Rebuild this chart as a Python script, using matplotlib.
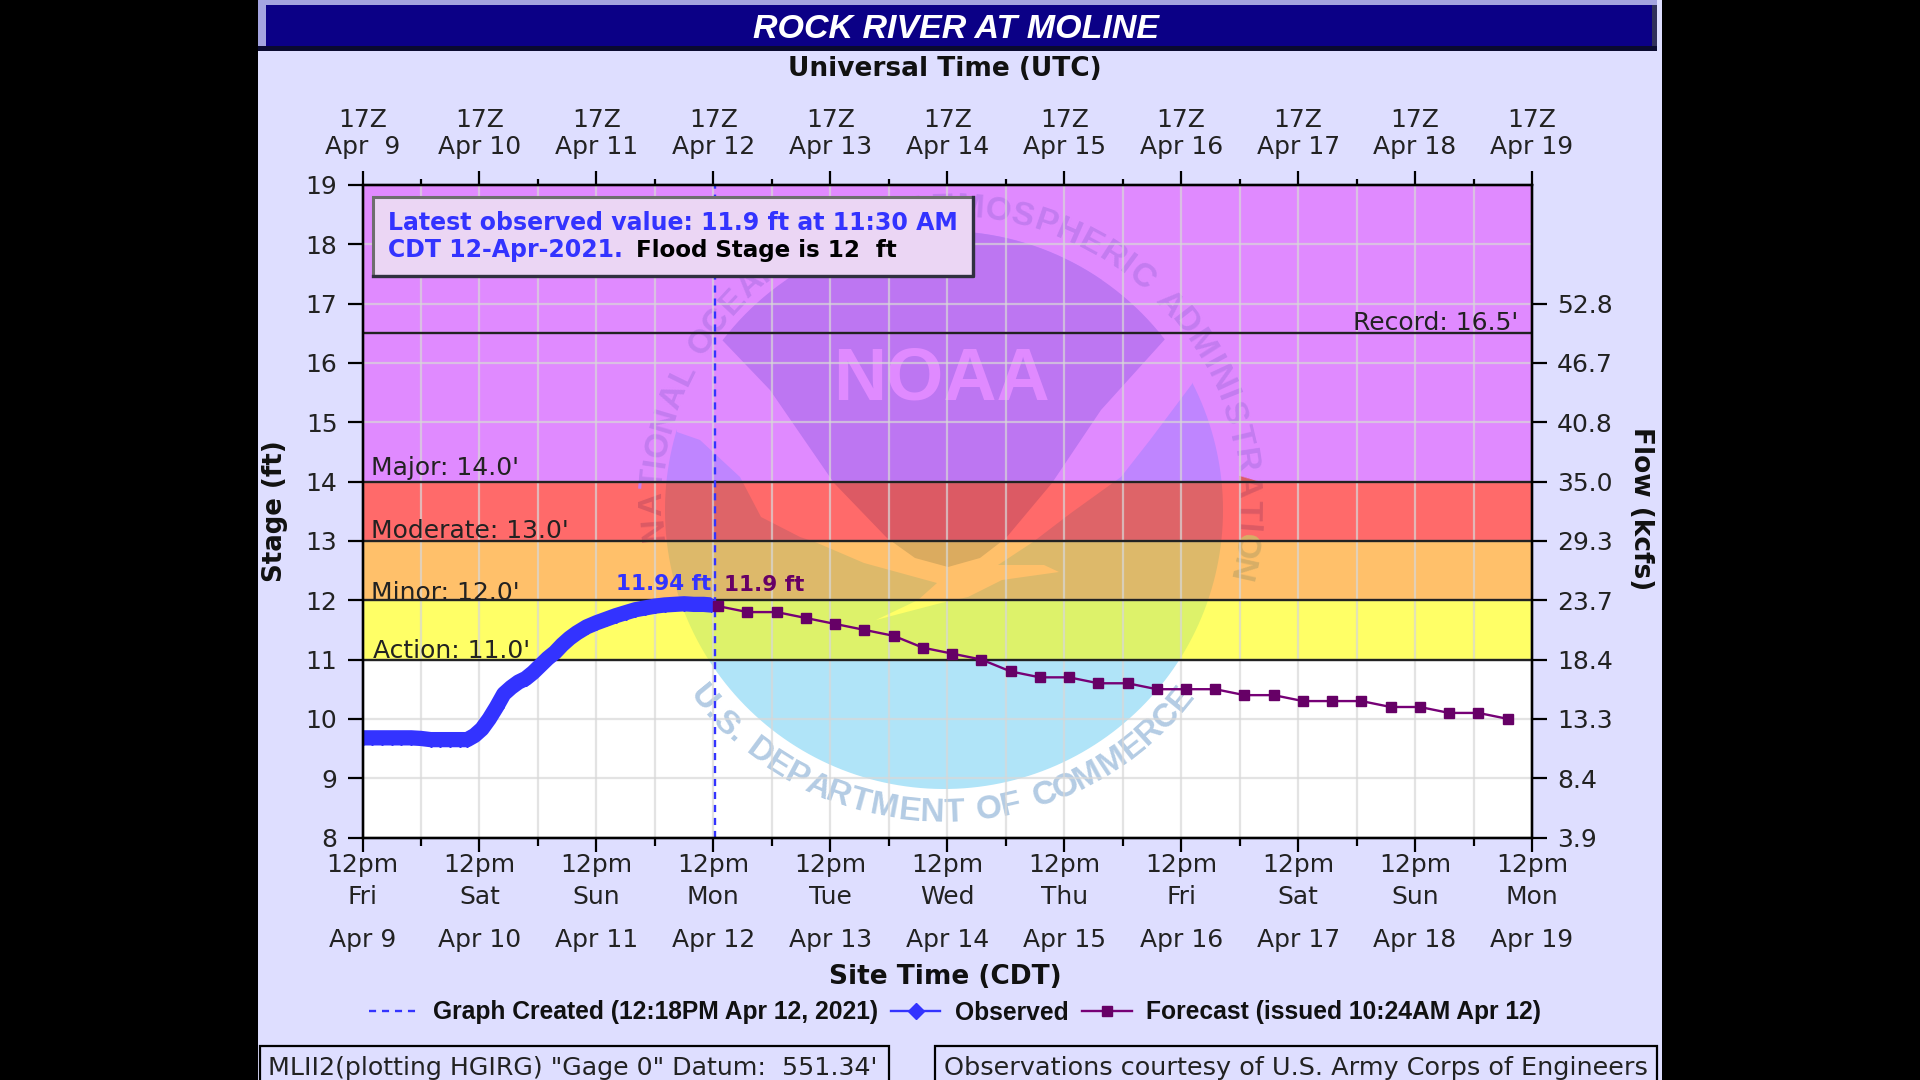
import numpy as np
import matplotlib
matplotlib.use("Agg")
import matplotlib.pyplot as plt
from matplotlib.patches import Rectangle, Polygon
from matplotlib.transforms import Affine2D
from matplotlib.lines import Line2D

# ---------- data ----------
obs_hours = [0, 2, 4, 6, 8, 10, 12, 14, 16, 18, 20, 21.5, 23, 24.5, 26, 27.5, 29, 30.5, 32, 33.5,
             35, 36.5, 38, 39.5, 41, 42.5, 44, 46, 48, 50, 52, 54, 56, 58, 60, 62, 64, 66, 68, 70, 71.5]
obs_stage = [9.68, 9.68, 9.68, 9.68, 9.68, 9.68, 9.67, 9.65, 9.65, 9.65, 9.65, 9.65, 9.72, 9.83, 10.0, 10.2,
             10.42, 10.53, 10.62, 10.68, 10.78, 10.9, 11.02, 11.12, 11.25, 11.36, 11.45, 11.55, 11.62, 11.68,
             11.74, 11.79, 11.84, 11.87, 11.9, 11.92, 11.93, 11.94, 11.93, 11.93, 11.92]
fc_hours = [73, 79, 85, 91, 97, 103, 109, 115, 121, 127, 133, 139, 145, 151, 157, 163, 169, 175, 181, 187,
            193, 199, 205, 211, 217, 223, 229, 235]
fc_stage = [11.9, 11.8, 11.8, 11.7, 11.6, 11.5, 11.4, 11.2, 11.1, 11.0, 10.8, 10.7, 10.7, 10.6, 10.6, 10.5,
            10.5, 10.5, 10.4, 10.4, 10.3, 10.3, 10.3, 10.2, 10.2, 10.1, 10.1, 10.0]
created_hour = 72.3
day_hours = list(range(0, 241, 24))
half_hours = list(range(12, 240, 24))
date_labels = ["Apr 9", "Apr 10", "Apr 11", "Apr 12", "Apr 13", "Apr 14", "Apr 15", "Apr 16", "Apr 17", "Apr 18", "Apr 19"]
top_date_labels = ["Apr  9"] + date_labels[1:]
weekday_labels = ["Fri", "Sat", "Sun", "Mon", "Tue", "Wed", "Thu", "Fri", "Sat", "Sun", "Mon"]
stage_ticks = list(range(8, 20))
flow_ticks = [8, 9, 10, 11, 12, 13, 14, 15, 16, 17]
flow_labels = ["3.9", "8.4", "13.3", "18.4", "23.7", "29.3", "35.0", "40.8", "46.7", "52.8"]
band_edges = [8, 11, 12, 13, 14, 19]
band_colors = ["#FFFFFF", "#FFFF66", "#FFC06A", "#FF6A6A", "#E08AFF"]
crescent_colors = ["#B0E4F8", "#DDF26A", "#DDB96A", "#DE6468", "#BF85FF"]
bird_colors = ["#B0E4F8", "#DDF26A", "#DBAB5F", "#DC5A64", "#BD76F2"]
ring_colors = ["#B4CCE4", "#CBD86A", "#D8AE66", "#DC5A64", "#C47CF0"]
flood_levels = [11, 12, 13, 14, 16.5]

BLUE = "#3333FF"
PURPLE = "#660066"
PANEL = "#DEDEFF"

plt.rcParams["font.family"] = ["DejaVu Sans"]
W, H = 1920, 1080
fig = plt.figure(figsize=(W / 100, H / 100), dpi=100, facecolor="black")
px = Affine2D().scale(1, -1).translate(0, H)
L, R, T, B = 362.5, 1532, 185, 837.5
ax = fig.add_axes([L / W, 1 - B / H, (R - L) / W, (B - T) / H])


def frect(x0, y0, x1, y1, **kw):
    fig.add_artist(Rectangle((x0, y0), x1 - x0, y1 - y0, transform=px, linewidth=kw.pop("lw", 0), **kw))


frect(258, 0, 1662, 1080, facecolor=PANEL, zorder=-5)
frect(258, 0, 1657, 6, facecolor="#A4A4E0", zorder=-4)
frect(258, 0, 266, 46, facecolor="#A4A4E0", zorder=-4)
frect(266, 5, 1652, 46, facecolor="#0B0086", zorder=-4)
frect(1652, 5, 1657, 46, facecolor="#30305A", zorder=-4)
frect(258, 46, 1657, 51, facecolor="#0A0A30", zorder=-4)
frect(260, 1046, 889, 1090, facecolor=PANEL, edgecolor="black", lw=1.6, zorder=-3)
frect(935, 1046, 1657, 1090, facecolor=PANEL, edgecolor="black", lw=1.6, zorder=-3)

ax.set_xlim(0, 240)
ax.set_ylim(8, 19)
ax.set_facecolor("white")

# flood bands
band_clips = []
for lo, hi, c in zip(band_edges[:-1], band_edges[1:], band_colors):
    ax.axhspan(lo, hi, facecolor=c, edgecolor="none", zorder=0)
    band_clips.append(Rectangle((0, lo), 240, hi - lo, transform=ax.transData))

# NOAA watermark (pixel geometry)
cx, cy, rad = 944, 510, 279
t = np.linspace(0, 2 * np.pi, 240)
disc = np.c_[cx + rad * np.cos(t), cy + rad * np.sin(t)]
bright = [(677, 432), (660, 280), (1230, 280), (1192, 384), (1150, 440), (1121, 477), (1071, 513), (1033, 542),
          (998, 565), (1044, 565), (1059, 572), (1002, 580), (968, 597), (941, 603), (876, 620), (918, 600),
          (937, 583), (864, 563), (815, 542), (800, 537), (761, 517), (740, 477), (700, 440)]
a0 = np.arctan2(340 - cy, 722 - cx)
a1 = np.arctan2(340 - cy, 1164 - cx)
arc = np.linspace(a0, a1, 60)
bird = list(zip(cx + rad * np.cos(arc), cy + rad * np.sin(arc))) + [
    (1101, 410), (1052, 483), (1006, 538), (980, 558), (948, 567), (915, 558), (887, 538), (834, 483), (770, 390)]
for i, clip in enumerate(band_clips):
    p = Polygon(disc, transform=px, facecolor=crescent_colors[i], edgecolor="none", zorder=0.5)
    ax.add_patch(p)
    p.set_clip_path(clip)
    if i > 0:
        p = Polygon(bright, transform=px, facecolor=band_colors[i], edgecolor="none", zorder=0.6)
        ax.add_patch(p)
        p.set_clip_path(clip)
        p = Polygon(bird, transform=px, facecolor=bird_colors[i], edgecolor="none", zorder=0.7)
        ax.add_patch(p)
        p.set_clip_path(clip)
ax.text(941, 380, "NOAA", transform=px, family="Liberation Sans", weight="bold",
        fontsize=53, color="#E08AFF", ha="center", va="center", zorder=0.8)


def ring_band(y):
    v = 8 + (B - y) / (B - T) * 11
    return ring_colors[int(np.searchsorted(band_edges, v, side="right") - 1)]


def ring_text(s, centre_x, start, stop, r, flip):
    w = np.array([0.45 if ch in "I.," else 0.55 if ch == " " else 1.25 if ch in "MW" else 1.0 for ch in s])
    pos = (np.cumsum(w) - w / 2) / w.sum()
    for ch, f in zip(s, pos):
        a = np.radians(start + (stop - start) * f)
        x, y = centre_x + r * np.cos(a), 505 - r * np.sin(a)
        rot = np.degrees(a) + (90 if flip else -90)
        ax.text(x, y, ch, transform=px, rotation=rot, rotation_mode="anchor", ha="center", va="center",
                family="Liberation Sans", weight="bold", fontsize=24, color=ring_band(y), zorder=0.9, clip_on=False)


ring_text("NATIONAL OCEANIC AND ATMOSPHERIC ADMINISTRATION", 950, 187, -15, 297, False)
ring_text("U.S. DEPARTMENT OF COMMERCE", 942, 217, 323, 308, True)

# grid
ax.set_xticks(day_hours)
ax.set_xticks(half_hours, minor=True)
ax.set_yticks(stage_ticks)
ax.set_axisbelow(False)
ax.grid(True, which="both", color="#D8D8D8", alpha=0.7, lw=1.6)

for lev in flood_levels:
    ax.axhline(lev, color="#222222", lw=1.7, zorder=3)
ax.axvline(created_hour, color=BLUE, lw=1.7, dashes=(3, 2.5), zorder=3.5)

ax.plot(obs_hours, obs_stage, color=BLUE, lw=11, marker="D", ms=7.5, mec=BLUE, mfc=BLUE,
        solid_capstyle="butt", zorder=4, label="Observed")
ax.plot(fc_hours, fc_stage, color="#760076", lw=1.7, marker="s", ms=7.8, mfc=PURPLE, mec=PURPLE, zorder=5,
        label="Forecast (issued 10:24AM Apr 12)")

# axes styling
FS = 18
for sp in ax.spines.values():
    sp.set_linewidth(1.6)
    sp.set_zorder(6)
ax.set_xticklabels(["12pm"] * len(day_hours), fontsize=FS)
ax.tick_params(axis="x", which="major", length=10, width=1.6, pad=1.5, color="black", labelcolor="#222222")
ax.tick_params(axis="x", which="minor", length=6, width=1.6)
ax.tick_params(axis="y", length=11, width=1.6, pad=7, labelsize=FS, labelcolor="#222222")

top = ax.twiny()
top.set_xlim(ax.get_xlim())
top.set_xticks(day_hours)
top.set_xticks(half_hours, minor=True)
top.set_xticklabels([""] * len(day_hours))
top.tick_params(axis="x", which="major", length=10, width=1.6)
top.tick_params(axis="x", which="minor", length=4, width=1.6)
right = ax.twinx()
right.set_ylim(ax.get_ylim())
right.set_yticks(flow_ticks)
right.set_yticklabels(flow_labels, fontsize=FS, color="#222222")
right.tick_params(axis="y", length=11, width=1.6, pad=7)
for a in (top, right):
    a.patch.set_visible(False)
    for sp in a.spines.values():
        sp.set_linewidth(1.6)


def yfrac(y):
    return (B - y) / (B - T)


xt = ax.get_xaxis_transform()
for h, d, td, wd in zip(day_hours, date_labels, top_date_labels, weekday_labels):
    ax.text(h, yfrac(897.5), wd, transform=xt, ha="center", va="center", fontsize=FS, color="#222222", clip_on=False)
    ax.text(h, yfrac(939.5), d, transform=xt, ha="center", va="center", fontsize=FS, color="#222222", clip_on=False)
    ax.text(h, yfrac(120), "17Z", transform=xt, ha="center", va="center", fontsize=FS, color="#222222", clip_on=False)
    ax.text(h, yfrac(147), td, transform=xt, ha="center", va="center", fontsize=FS, color="#222222", clip_on=False)


def ftext(x, y, s, **kw):
    kw.setdefault("ha", "center")
    kw.setdefault("va", "center")
    fig.text(x, y, s, transform=px, **kw)


ftext(956, 29.5, "ROCK RIVER AT MOLINE", family="Liberation Sans", weight="bold", style="italic", fontsize=24.5, color="white")
ftext(945, 69.5, "Universal Time (UTC)", weight="bold", fontsize=19, color="#111111")
ftext(945, 977, "Site Time (CDT)", weight="bold", fontsize=19, color="#111111")
ftext(275, 511, "Stage (ft)", weight="bold", fontsize=18.7, rotation=90, color="#111111")
ftext(1641, 509, "Flow (kcfs)", weight="bold", fontsize=19, rotation=-90, color="#111111")
ftext(268, 1068, "MLII2(plotting HGIRG) \"Gage 0\" Datum:  551.34'", ha="left", fontsize=18.2, color="#222222")
ftext(944, 1068, "Observations courtesy of U.S. Army Corps of Engineers", ha="left", fontsize=18.35, color="#222222")


def ptext(x, y, s, **kw):
    kw.setdefault("ha", "left")
    kw.setdefault("va", "center")
    kw.setdefault("zorder", 7)
    ax.text(x, y, s, transform=px, clip_on=False, **kw)


ptext(371, 468.5, "Major: 14.0'", fontsize=FS, color="#222222")
ptext(371, 531.5, "Moderate: 13.0'", fontsize=FS, color="#222222")
ptext(371, 592.5, "Minor: 12.0'", fontsize=FS, color="#222222")
ptext(373, 651.5, "Action: 11.0'", fontsize=FS, color="#222222")
ptext(1518, 322.5, "Record: 16.5'", fontsize=FS, color="#222222", ha="right")
ptext(616, 583.5, "11.94 ft", fontsize=15.5, weight="bold", color=BLUE)
ptext(724, 585, "11.9 ft", fontsize=15.5, weight="bold", color=PURPLE)

# info box
ax.add_patch(Rectangle((373, 197), 600, 79, transform=px, facecolor="#EBD6F4", edgecolor="#6E6E6E", lw=2.2, zorder=6))
ax.add_line(Line2D([373, 973, 973], [276, 276, 197], transform=px, color="#303040", lw=2.4, zorder=6.1))
ptext(388, 223.5, "Latest observed value: 11.9 ft at 11:30 AM", fontsize=17, weight="bold", color=BLUE)
ptext(388, 250, "CDT 12-Apr-2021.", fontsize=17, weight="bold", color=BLUE)
ptext(635.5, 250, "Flood Stage is 12  ft", fontsize=16.6, weight="bold", color="black")

# legend
handles = [
    Line2D([], [], color=BLUE, lw=1.7, dashes=(3, 2.5), label="Graph Created (12:18PM Apr 12, 2021)"),
    Line2D([], [], color=BLUE, lw=1.7, marker="D", ms=8, label="Observed"),
    Line2D([], [], color="#760076", lw=1.7, marker="s", ms=7, mfc=PURPLE, mec=PURPLE,
           label="Forecast (issued 10:24AM Apr 12)"),
]
fig.legend(handles=handles, loc="center", bbox_to_anchor=(955 / W, 1 - 1012.5 / H), ncol=3, frameon=False,
           prop={"family": "Liberation Sans", "weight": "bold", "size": 17.7}, handlelength=2.0,
           handletextpad=0.6, columnspacing=0.55, labelcolor="#111111", borderpad=0, borderaxespad=0)

fig.savefig("out.png", dpi=100, facecolor="black")
